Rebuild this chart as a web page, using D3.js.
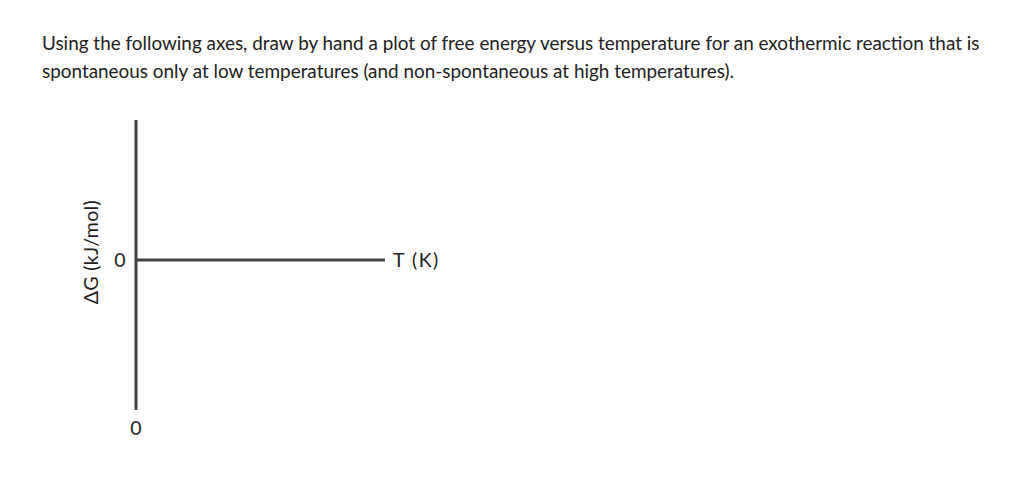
<!DOCTYPE html>
<html><head><meta charset="utf-8">
<script src="https://cdn.jsdelivr.net/npm/d3@7"></script>
<style>
html,body{margin:0;padding:0;background:#fff;}
svg{display:block;}
text{font-family:Lato,"Noto Sans",sans-serif;}
</style></head>
<body>
<script>
const titleLines = [
  "Using the following axes, draw by hand a plot of free energy versus temperature for an exothermic reaction that is",
  "spontaneous only at low temperatures (and non-spontaneous at high temperatures)."
];
const xDomain = [0, 1];
const yDomain = [-1.07, 1];
const xTickLabels = ["0"];
const yTickLabels = ["0"];
const xLabel = "T (K)";
const yLabel = "ΔG (kJ/mol)";

const W = 1024, H = 489;
const svg = d3.select("body").append("svg").attr("width", W).attr("height", H);

svg.selectAll("text.title").data(titleLines).join("text")
  .attr("class","title")
  .attr("x", 42).attr("y", (d,i) => 50 + i*28)
  .attr("font-size", 18.9).attr("fill", "#222").text(d => d);

const x = d3.scaleLinear().domain(xDomain).range([136, 385]);
const y = d3.scaleLinear().domain(yDomain).range([410, 120]);
const axisColor = "#444";

svg.append("line")
  .attr("x1", x(0)).attr("x2", x(0))
  .attr("y1", y(yDomain[0])).attr("y2", y(yDomain[1]))
  .attr("stroke", axisColor).attr("stroke-width", 3);
svg.append("line")
  .attr("x1", x(xDomain[0])).attr("x2", x(xDomain[1]))
  .attr("y1", y(0)).attr("y2", y(0))
  .attr("stroke", axisColor).attr("stroke-width", 3);

const fs = 19.5, tc = "#222";
svg.selectAll("text.ytick").data(yTickLabels).join("text")
  .attr("class","ytick")
  .attr("x", x(0) - 16).attr("y", y(0)).attr("dy","0.35em")
  .attr("text-anchor","middle").attr("font-size", fs).attr("fill", tc).text(d => d);

svg.selectAll("text.xtick").data(xTickLabels).join("text")
  .attr("class","xtick")
  .attr("x", x(0)).attr("y", y(yDomain[0]) + 18).attr("dy","0.35em")
  .attr("text-anchor","middle").attr("font-size", fs).attr("fill", tc).text(d => d);

svg.append("text")
  .attr("x", x(xDomain[1]) + 8).attr("y", y(0)).attr("dy","0.35em")
  .attr("font-size", fs).attr("letter-spacing", 1.5).attr("fill", tc).text(xLabel);

svg.append("text")
  .attr("transform", `translate(98,${y(0)-8}) rotate(-90)`)
  .attr("text-anchor","middle").attr("letter-spacing", 0.3)
  .attr("font-size", fs).attr("fill", tc).text(yLabel);
</script>
</body></html>
